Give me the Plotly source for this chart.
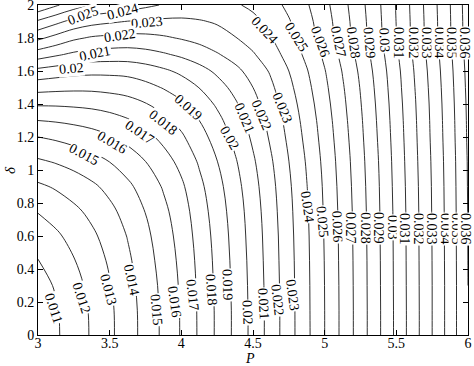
import plotly.graph_objects as go

# Contour levels
levels_start, levels_end, levels_step = 0.011, 0.036, 0.001

P = [3.0, 3.125, 3.25, 3.375, 3.5, 3.625, 3.75, 3.875, 4.0, 4.125, 4.25, 4.375, 4.5,
     4.625, 4.75, 4.875, 5.0, 5.125, 5.25, 5.375, 5.5, 5.625, 5.75, 5.875, 6.0]
delta = [0, 0.15, 0.3, 0.45, 0.6, 0.75, 0.9, 1.05, 1.2, 1.3, 1.4, 1.5, 1.6, 1.7, 1.8, 1.9, 2.0]

# Surface values, in units of 1e-5 (one row per delta value)
z_e5 = [
    [1030, 1087, 1148, 1210, 1280, 1355, 1435, 1520, 1608, 1714, 1817, 1922, 2030, 2141, 2260, 2377, 2500, 2625, 2750, 2883, 3022, 3161, 3300, 3444, 3600],
    [1035, 1091, 1151, 1213, 1282, 1356, 1437, 1521, 1609, 1715, 1817, 1922, 2030, 2141, 2260, 2378, 2500, 2625, 2750, 2883, 3022, 3161, 3300, 3444, 3600],
    [1058, 1110, 1167, 1227, 1293, 1366, 1444, 1527, 1615, 1719, 1821, 1925, 2033, 2143, 2262, 2379, 2501, 2626, 2751, 2884, 3023, 3162, 3300, 3444, 3600],
    [1097, 1143, 1195, 1250, 1313, 1382, 1458, 1539, 1624, 1726, 1827, 1930, 2037, 2147, 2265, 2381, 2503, 2628, 2752, 2885, 3024, 3163, 3301, 3445, 3601],
    [1144, 1184, 1231, 1281, 1339, 1404, 1476, 1554, 1637, 1737, 1835, 1937, 2043, 2151, 2269, 2384, 2506, 2630, 2754, 2887, 3025, 3164, 3302, 3446, 3602],
    [1205, 1239, 1279, 1324, 1376, 1436, 1503, 1576, 1655, 1752, 1848, 1947, 2051, 2159, 2275, 2389, 2510, 2633, 2757, 2889, 3027, 3165, 3304, 3447, 3603],
    [1283, 1311, 1344, 1382, 1427, 1480, 1541, 1609, 1683, 1775, 1867, 1963, 2065, 2170, 2284, 2397, 2516, 2639, 2762, 2893, 3031, 3168, 3306, 3449, 3605],
    [1385, 1407, 1433, 1464, 1501, 1546, 1599, 1660, 1727, 1811, 1898, 1989, 2086, 2188, 2299, 2409, 2526, 2647, 2769, 2899, 3036, 3173, 3310, 3452, 3607],
    [1500, 1516, 1537, 1561, 1591, 1629, 1673, 1725, 1785, 1861, 1940, 2026, 2117, 2215, 2320, 2427, 2540, 2659, 2779, 2908, 3043, 3179, 3316, 3457, 3612],
    [1600, 1609, 1622, 1638, 1661, 1691, 1729, 1776, 1830, 1900, 1973, 2053, 2140, 2233, 2335, 2439, 2550, 2668, 2786, 2914, 3048, 3183, 3319, 3460, 3614],
    [1712, 1713, 1718, 1726, 1741, 1762, 1795, 1836, 1884, 1946, 2014, 2087, 2167, 2255, 2353, 2454, 2563, 2678, 2795, 2921, 3054, 3188, 3323, 3464, 3617],
    [1837, 1828, 1822, 1822, 1830, 1843, 1870, 1906, 1948, 2002, 2062, 2127, 2200, 2282, 2375, 2472, 2578, 2690, 2805, 2930, 3062, 3195, 3329, 3469, 3622],
    [1971, 1951, 1933, 1925, 1925, 1930, 1952, 1983, 2020, 2066, 2118, 2174, 2238, 2312, 2400, 2493, 2595, 2705, 2818, 2941, 3070, 3203, 3336, 3475, 3627],
    [2150, 2114, 2081, 2062, 2055, 2053, 2066, 2089, 2117, 2151, 2192, 2237, 2291, 2355, 2436, 2523, 2620, 2727, 2837, 2957, 3085, 3215, 3346, 3484, 3634],
    [2320, 2268, 2217, 2188, 2176, 2167, 2172, 2187, 2207, 2230, 2261, 2296, 2339, 2394, 2468, 2551, 2643, 2747, 2855, 2972, 3098, 3226, 3357, 3493, 3642],
    [2486, 2426, 2369, 2333, 2314, 2297, 2286, 2280, 2281, 2292, 2310, 2337, 2375, 2425, 2492, 2568, 2656, 2757, 2862, 2978, 3102, 3229, 3359, 3495, 3644],
    [2680, 2613, 2547, 2504, 2477, 2453, 2422, 2393, 2370, 2366, 2371, 2389, 2420, 2463, 2522, 2590, 2672, 2769, 2871, 2984, 3106, 3233, 3363, 3498, 3647],
]

# Inline contour labels: level value
label_level = [0.025, 0.024, 0.023, 0.022, 0.021, 0.02,
               0.019, 0.018, 0.017, 0.016, 0.015,
               0.02, 0.021, 0.022, 0.023, 0.024, 0.025, 0.026, 0.027, 0.028, 0.029,
               0.03, 0.031, 0.032, 0.033, 0.034, 0.035, 0.036,
               0.024, 0.025, 0.026, 0.027, 0.028, 0.029, 0.03, 0.031, 0.032, 0.033, 0.034, 0.035, 0.036,
               0.011, 0.012, 0.013, 0.014, 0.015, 0.016, 0.017, 0.018, 0.019,
               0.02, 0.021, 0.022, 0.023]

# label placement (P, delta, text angle)
label_pos = [(3.314, 1.939, -20), (3.593, 1.958, -15), (3.760, 1.897, -5), (3.572, 1.818, -8),
             (3.398, 1.709, -12), (3.237, 1.618, -5),
             (4.047, 1.376, 42), (3.872, 1.285, 38), (3.712, 1.230, 34), (3.516, 1.164, 31), (3.321, 1.091, 28),
             (4.333, 1.194, 60), (4.444, 1.315, 67), (4.563, 1.333, 67), (4.702, 1.376, 68),
             (4.584, 1.848, 47), (4.807, 1.806, 58), (4.967, 1.776, 70), (5.093, 1.776, 78),
             (5.198, 1.770, 82), (5.309, 1.770, 85), (5.414, 1.788, 88), (5.512, 1.770, 90),
             (5.616, 1.770, 90), (5.707, 1.770, 90), (5.798, 1.770, 90), (5.881, 1.770, 90), (5.972, 1.770, 90),
             (4.877, 0.776, 82), (4.981, 0.685, 85), (5.086, 0.655, 88), (5.184, 0.648, 90),
             (5.288, 0.648, 90), (5.379, 0.648, 90), (5.470, 0.655, 90), (5.561, 0.642, 90),
             (5.658, 0.642, 90), (5.749, 0.642, 90), (5.847, 0.642, 90), (5.923, 0.642, 90), (5.986, 0.642, 90),
             (3.105, 0.164, 72), (3.307, 0.224, 72), (3.488, 0.273, 75), (3.656, 0.333, 78),
             (3.823, 0.152, 85), (3.956, 0.200, 82), (4.081, 0.242, 84), (4.207, 0.273, 86),
             (4.326, 0.303, 88), (4.465, 0.133, 88), (4.570, 0.188, 86), (4.674, 0.212, 84),
             (4.779, 0.242, 82)]

x_ticks = [3, 3.5, 4, 4.5, 5, 5.5, 6]
y_ticks = [0, 0.2, 0.4, 0.6, 0.8, 1, 1.2, 1.4, 1.6, 1.8, 2]
y_ticktext = ["0", "0.2", "0.4", "0.6", "0.8", "1", "1.2", "1.4", "1.6", "1.8", "2"]

FONT = "Liberation Serif"
z = [[v * 1e-5 for v in row] for row in z_e5]

fig = go.Figure(go.Contour(
    x=P, y=delta, z=z,
    contours=dict(start=levels_start, end=levels_end + levels_step / 10, size=levels_step,
                  coloring="none", showlabels=False),
    line=dict(color="#1a1a1a", width=0.9, smoothing=1),
    showscale=False, hoverinfo="skip"))

ann = []
for lv, (px, dy, a) in zip(label_level, label_pos):
    ann.append(dict(x=px, y=dy, xref="x", yref="y", text=f"{lv:g}", textangle=a,
                    showarrow=False, bgcolor="white", borderpad=0,
                    font=dict(family=FONT, size=14, color="black")))
ann.append(dict(x=0.493, y=-0.0727, xref="paper", yref="paper", text="<i>P</i>", showarrow=False,
                xanchor="center", yanchor="middle",
                font=dict(family=FONT, size=14, color="black")))
ann.append(dict(x=-0.0651, y=0.5, xref="paper", yref="paper", text="<i>δ</i>", showarrow=False,
                xanchor="center", yanchor="middle", textangle=-90,
                font=dict(family=FONT, size=15, color="black")))

ax = dict(showgrid=False, zeroline=False, showline=True, linecolor="black", linewidth=1,
          mirror="ticks", ticks="inside", ticklen=5, tickcolor="black", automargin=False,
          ticklabeloverflow="allow", tickfont=dict(family=FONT, size=14, color="black"))
fig.update_layout(width=474, height=366, margin=dict(l=38, r=6, t=5, b=31),
                  paper_bgcolor="white", plot_bgcolor="white", annotations=ann,
                  xaxis=dict(range=[3, 6], tickvals=x_ticks, ticklabelstandoff=-5, **ax),
                  yaxis=dict(range=[0, 2], tickvals=y_ticks, ticktext=y_ticktext, **ax))
fig.write_html("out.html", config={"displayModeBar": False},
               post_script="document.body.style.margin='0px';")
